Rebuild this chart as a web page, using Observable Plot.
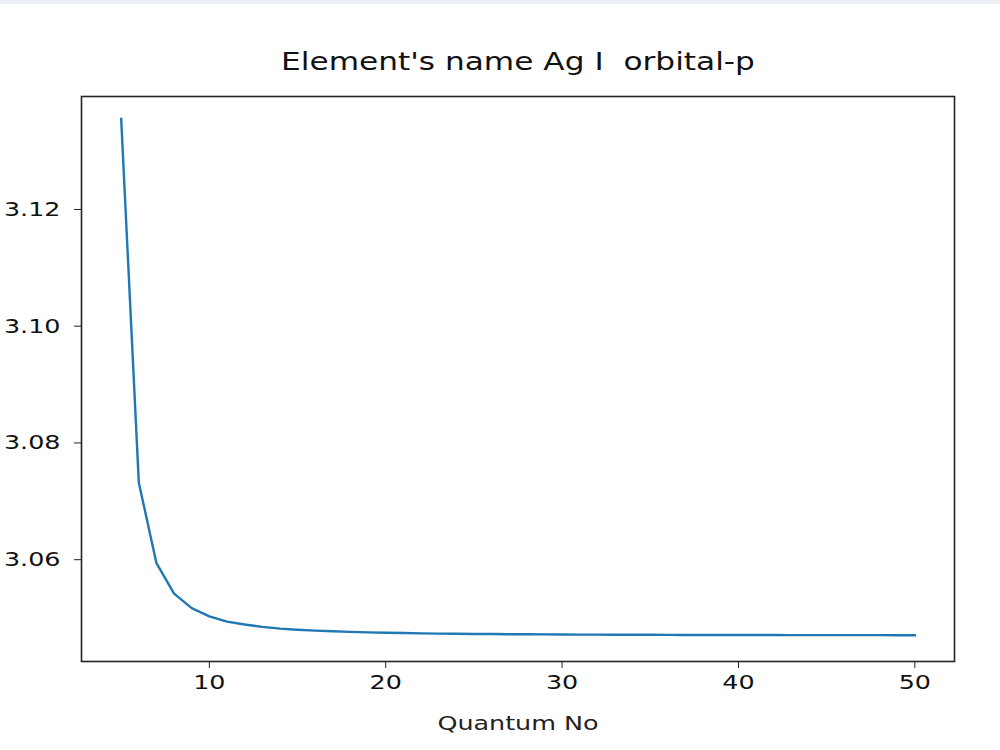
<!DOCTYPE html>
<html>
<head>
<meta charset="utf-8">
<script src="https://cdn.jsdelivr.net/npm/d3@7"></script>
<script src="https://cdn.jsdelivr.net/npm/@observablehq/plot@0.6"></script>
<style>
  html, body { margin: 0; padding: 0; background: #fff; }
  #band { height: 4px; background: #eceef7; }
  #chart { position: absolute; top: 0; left: 0; }
</style>
</head>
<body>
<div id="band"></div>
<div id="chart"></div>
<script>
const chartTitle = "Element's name Ag I  orbital-p";
const xLabel = "Quantum No";
const quantumNo = [5,6,7,8,9,10,11,12,13,14,15,16,17,18,19,20,21,22,23,24,25,26,27,28,29,30,31,32,33,34,35,36,37,38,39,40,41,42,43,44,45,46,47,48,49,50];
const values = [3.1355,3.0732,3.0594,3.0542,3.0517,3.0503,3.0494,3.0489,3.0485,3.0482,3.0480,3.04785,3.04773,3.04763,3.04755,3.04748,3.04743,3.04738,3.04734,3.04731,3.04728,3.04726,3.04724,3.04722,3.0472,3.04718,3.04717,3.04716,3.04715,3.04714,3.04713,3.04712,3.04711,3.04711,3.0471,3.0471,3.04709,3.04709,3.04708,3.04708,3.04708,3.04707,3.04707,3.04707,3.04706,3.04706];
const xTicks = [10,20,30,40,50];
const yTicks = [3.06,3.08,3.10,3.12];

const data = quantumNo.map((n, i) => ({n, v: values[i]}));

const chart = Plot.plot({
  width: 1000,
  height: 750,
  marginLeft: 81,
  marginRight: 46,
  marginTop: 96,
  marginBottom: 89,
  style: {fontFamily: "DejaVu Sans", fontSize: "20px", color: "#111", whiteSpace: "pre", background: "transparent"},
  x: {domain: [2.75, 52.25]},
  y: {domain: [3.04256, 3.13935]},
  marks: [
    Plot.axisX({ticks: xTicks, tickSize: 7, tickPadding: 6, fontSize: 20, label: null, stroke: "#222"}),
    Plot.axisY({ticks: yTicks, tickSize: 7, tickPadding: 14, fontSize: 20, label: null, tickFormat: d3.format(".2f"), stroke: "#222"}),
    Plot.line(data, {x: "n", y: "v", stroke: "#1f77b4", strokeWidth: 2.4, strokeLinecap: "square"}),
    Plot.frame({stroke: "#222", strokeWidth: 1.6}),
    Plot.text([chartTitle], {frameAnchor: "top", dy: -27, lineAnchor: "bottom", fontSize: 24, fill: "#111"}),
    Plot.text([xLabel], {frameAnchor: "bottom", dy: 54, lineAnchor: "top", fontSize: 20, fill: "#222"})
  ]
});
// widen glyphs horizontally (the reference is horizontally stretched)
d3.select(chart).selectAll("text").each(function() {
  const t = d3.select(this);
  const s = t.text() === chartTitle ? 1.3 : 1.27;
  const x = +(t.attr("x") || 0);
  const tr = t.attr("transform") || "";
  t.attr("transform", `${tr} translate(${x},0) scale(${s},1) translate(${-x},0)`);
});
document.getElementById("chart").appendChild(chart);
</script>
</body>
</html>
